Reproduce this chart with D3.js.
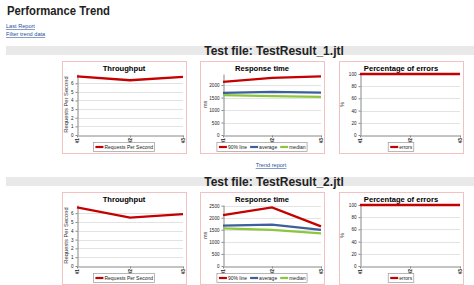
<!DOCTYPE html>
<html><head><meta charset="utf-8">
<script src="https://cdn.jsdelivr.net/npm/d3@7"></script>
<style>
body{margin:0;background:#fff;}
svg{display:block;font-family:"Liberation Sans",Arial,sans-serif;}
</style>
</head><body><svg id="c" width="474" height="285"></svg>
<script>
const builds = ["#1", "#2", "#3"];
const testFiles = ["TestResult_1.jtl", "TestResult_2.jtl"];
const throughput1 = [6.8, 6.35, 6.75];
const rt90_1 = [2130, 2290, 2350];
const rtAvg_1 = [1690, 1730, 1700];
const rtMed_1 = [1600, 1560, 1530];
const errors1 = [100, 100, 100];
const throughput2 = [6.66, 5.5, 5.88];
const rt90_2 = [2110, 2430, 1640];
const rtAvg_2 = [1670, 1710, 1500];
const rtMed_2 = [1560, 1500, 1350];
const errors2 = [100, 100, 100];
const thrTicks = [0, 1, 2, 3, 4, 5, 6];
const rtTicks1 = [0, 500, 1000, 1500, 2000];
const rtTicks2 = [0, 500, 1000, 1500, 2000, 2500];
const errTicks = [0, 20, 40, 60, 80, 100];

const RED = "#c40000", BLUE = "#3d5f9c", GREEN = "#8cc63f";
const svg = d3.select("#c");

svg.append("text").attr("x", 7).attr("y", 15).attr("font-size", 13).attr("font-weight", "bold")
  .attr("fill", "#222").attr("textLength", 103).attr("lengthAdjust", "spacingAndGlyphs").text("Performance Trend");
function link(x, y, t, anchor) {
  svg.append("text").attr("x", x).attr("y", y).attr("font-size", 5.6).attr("fill", "#2a4f9a")
    .attr("text-anchor", anchor || "start").style("text-decoration", "underline").text(t);
}
link(6, 28, "Last Report");
link(6, 36, "Filter trend data");

function panel(px, py, cfg) {
  const g = svg.append("g");
  const w = 124, h = 92;
  g.append("rect").attr("x", px + 0.5).attr("y", py + 0.5).attr("width", w).attr("height", h)
    .attr("fill", "#fff").attr("stroke", "#f2c2c2");
  g.append("text").attr("x", px + w / 2).attr("y", py + 9.8).attr("text-anchor", "middle")
    .attr("font-size", 7.6).attr("font-weight", "bold").attr("fill", "#000").text(cfg.title);
  const x0 = px + cfg.left, x1 = px + w - 3, y0 = py + 74, y1 = py + 13;
  const top = cfg.pad ? d3.max(cfg.series.flatMap(s => s.values)) * cfg.pad : cfg.top;
  const y = d3.scaleLinear().domain([0, top]).range([y0, y1]);
  const x = d3.scalePoint().domain(builds).range([x0, x1]);
  g.selectAll(".grid").data(cfg.ticks.filter(t => t > 0)).join("line")
    .attr("x1", x0).attr("x2", x1).attr("y1", d => Math.round(y(d)) + 0.5).attr("y2", d => Math.round(y(d)) + 0.5)
    .attr("stroke", "#dcdcdc").attr("stroke-width", 0.8);
  const ya = g.append("g").attr("transform", `translate(${x0 + 0.5},0)`)
    .call(d3.axisLeft(y).tickValues(cfg.ticks).tickSize(2).tickSizeOuter(0).tickPadding(2).tickFormat(d3.format("d")));
  ya.selectAll("text").attr("font-size", 4.6).attr("fill", "#222");
  ya.selectAll("line,path").attr("stroke", "#888");
  const xa = g.append("g").attr("transform", `translate(0,${Math.round(y0) + 0.5})`)
    .call(d3.axisBottom(x).tickSize(2).tickSizeOuter(0));
  xa.selectAll("line,path").attr("stroke", "#888");
  xa.selectAll("text").attr("font-size", 4.8).attr("font-weight", "bold").attr("fill", "#222")
    .attr("transform", "rotate(-90)").attr("x", -2.5).attr("y", 0).attr("dy", "0.35em")
    .style("text-anchor", "end");
  g.append("text").attr("transform", `translate(${px + cfg.labelX},${(y0 + y1) / 2}) rotate(-90)`)
    .attr("text-anchor", "middle").attr("font-size", 5.8).attr("fill", "#333").text(cfg.yLabel);
  const line = d3.line().x((d, i) => x(builds[i])).y(d => y(d));
  cfg.series.forEach(s => {
    g.append("path").datum(s.values).attr("d", line).attr("fill", "none")
      .attr("stroke", s.color).attr("stroke-width", 2.3);
  });
  // legend
  const lg = g.append("g");
  const box = lg.append("rect");
  let cx = 2;
  cfg.series.forEach((s, i) => {
    lg.append("line").attr("x1", cx).attr("x2", cx + 8).attr("y1", 4.5).attr("y2", 4.5)
      .attr("stroke", s.color).attr("stroke-width", 2.2);
    const t = lg.append("text").attr("x", cx + 9).attr("y", 6.3).attr("font-size", 5).attr("fill", "#222").text(s.name);
    cx += 9 + t.node().getComputedTextLength() + (i < cfg.series.length - 1 ? 3 : 1.5);
  });
  box.attr("x", 0).attr("y", 0).attr("width", cx).attr("height", 9).attr("fill", "#fff").attr("stroke", "#999").attr("stroke-width", 0.7);
  lg.attr("transform", `translate(${px + w / 2 - cx / 2},${py + 81.5})`);
}

function section(yBand, file, thr, r90, rAvg, rMed, err, rtTicks) {
  svg.append("rect").attr("x", 6).attr("y", yBand).attr("width", 468).attr("height", 9).attr("fill", "#e9e9e9");
  svg.append("text").attr("x", 274).attr("y", yBand + 8.6).attr("text-anchor", "middle").attr("font-size", 12)
    .attr("font-weight", "bold").attr("fill", "#222").text("Test file: " + file);
  const py = yBand + 15;
  panel(62, py, { title: "Throughput", left: 15, yLabel: "Requests Per Second", labelX: 6, ticks: thrTicks, pad: 1.04,
    series: [{ name: "Requests Per Second", values: thr, color: RED }] });
  panel(200, py, { title: "Response time", left: 23, yLabel: "ms", labelX: 7, ticks: rtTicks, pad: 1.04,
    series: [{ name: "90% line", values: r90, color: RED }, { name: "average", values: rAvg, color: BLUE }, { name: "median", values: rMed, color: GREEN }] });
  panel(339, py, { title: "Percentage of errors", left: 21, yLabel: "%", labelX: 5, ticks: errTicks, top: 100,
    series: [{ name: "errors", values: err, color: RED }] });
}
section(46, testFiles[0], throughput1, rt90_1, rtAvg_1, rtMed_1, errors1, rtTicks1);
link(271, 167, "Trend report", "middle");
section(177, testFiles[1], throughput2, rt90_2, rtAvg_2, rtMed_2, errors2, rtTicks2);
</script></body></html>
